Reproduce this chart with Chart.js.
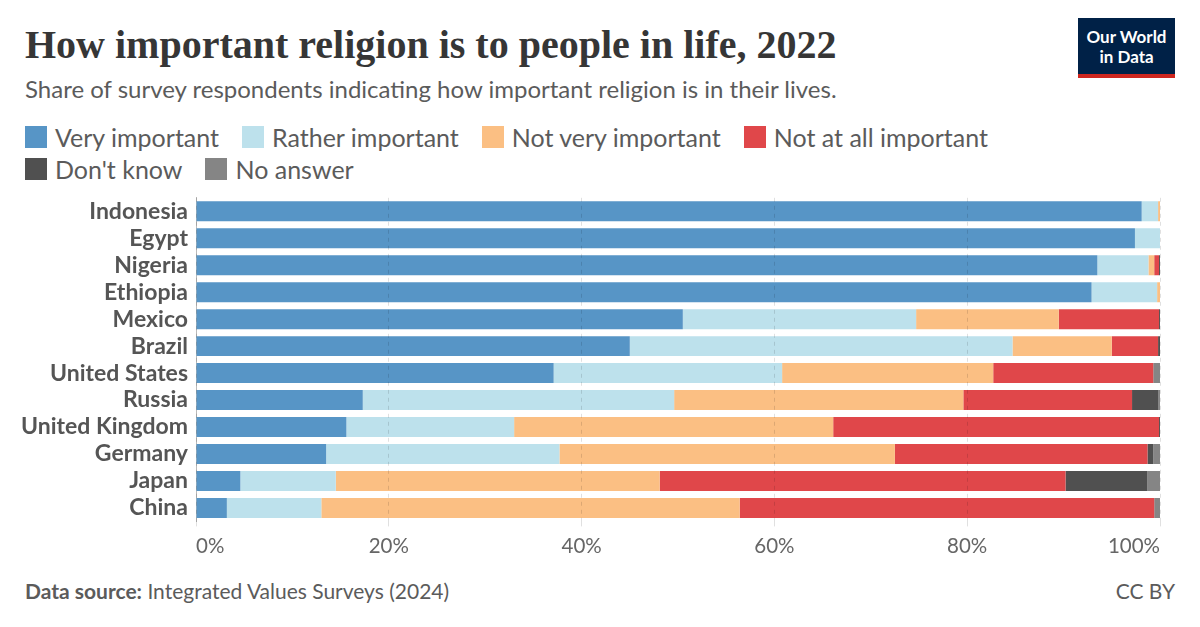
<!DOCTYPE html>
<html>
<head>
<meta charset="utf-8">
<script src="https://cdn.jsdelivr.net/npm/chart.js@4.4.0/dist/chart.umd.min.js"></script>
<style>
  body { margin: 0; background: #fff; width: 1200px; height: 627px; overflow: hidden; position: relative; font-family: Lato, sans-serif; }
  #title { position: absolute; left: 25px; top: 21px; font: bold 40px "Liberation Serif", serif; color: #363636; white-space: nowrap; }
  #subtitle { position: absolute; left: 25px; top: 74px; font-size: 24px; color: #5b5b5b; white-space: nowrap; }
  #logo { position: absolute; left: 1078px; top: 18px; width: 97px; height: 60px; background: #002147; border-bottom: 4px solid #ce261e; box-sizing: border-box; color: #fff; font: bold 17px Lato, sans-serif; line-height: 20px; text-align: center; padding-top: 9px; }
  #legend { position: absolute; left: 25px; top: 121px; width: 1000px; }
  .row { height: 32px; display: flex; align-items: center; }
  .item { display: flex; align-items: center; margin-right: 23px; font-size: 25px; color: #5b5b5b; white-space: nowrap; }
  .item span.box { display: inline-block; width: 22px; height: 22px; margin-right: 8px; }
  #source { position: absolute; left: 25px; top: 578px; font-size: 21px; color: #5b5b5b; }
  #license { position: absolute; right: 25px; top: 578px; font-size: 21px; color: #5b5b5b; }
  #wrap { position: absolute; left: 0; top: 176px; width: 1200px; height: 391px; }
</style>
</head>
<body>
<div id="title">How important religion is to people in life, 2022</div>
<div id="subtitle">Share of survey respondents indicating how important religion is in their lives.</div>
<div id="logo">Our World<br>in Data</div>
<div id="legend"></div>
<div id="wrap"><canvas id="myChart"></canvas></div>
<div id="source"><b>Data source:</b> Integrated Values Surveys (2024)</div>
<div id="license">CC BY</div>
<script>
let countries = ['Indonesia', 'Egypt', 'Nigeria', 'Ethiopia', 'Mexico', 'Brazil', 'United States', 'Russia', 'United Kingdom', 'Germany', 'Japan', 'China'];
let veryImportant =   [98.1, 97.4, 93.5, 92.9, 50.5, 45.0, 37.1, 17.3, 15.6, 13.5, 4.6, 3.2];
let ratherImportant = [1.7, 2.6, 5.3, 6.8, 24.2, 39.7, 23.7, 32.3, 17.4, 24.2, 9.9, 9.8];
let notVery =         [0.2, 0, 0.6, 0.3, 14.8, 10.3, 21.9, 30.0, 33.1, 34.8, 33.6, 43.4];
let notAtAll =        [0, 0, 0.5, 0, 10.4, 4.8, 16.6, 17.5, 33.8, 26.2, 42.1, 43.0];
let dontKnow =        [0, 0, 0.1, 0, 0.1, 0.2, 0, 2.7, 0.1, 0.6, 8.5, 0];
let noAnswer =        [0, 0, 0, 0, 0, 0, 0.8, 0.2, 0, 0.7, 1.3, 0.6];
let seriesNames = ['Very important', 'Rather important', 'Not very important', 'Not at all important', "Don't know", 'No answer'];
let colorHex = ['#5795c6', '#bde1ec', '#fbbf83', '#e0474a', '#505050', '#858585'];
let xTicks = [0, 20, 40, 60, 80, 100];

let seriesData = [veryImportant, ratherImportant, notVery, notAtAll, dontKnow, noAnswer];

// legend in html, four entries on the first row
let legend = document.getElementById('legend');
let row;
seriesNames.forEach((name, i) => {
    if (i === 0 || i === 4) {
        row = document.createElement('div');
        row.className = 'row';
        legend.appendChild(row);
    }
    let item = document.createElement('div');
    item.className = 'item';
    item.innerHTML = '<span class="box" style="background:' + colorHex[i] + '"></span>' + name;
    row.appendChild(item);
});

let ctx = document.getElementById('myChart').getContext('2d');
let myChart = new Chart(ctx, {
    type: 'bar',
    data: {
        labels: countries,
        datasets: seriesNames.map((name, i) => ({
            label: name,
            data: seriesData[i],
            backgroundColor: colorHex[i],
            borderWidth: 0,
            barPercentage: 0.74,
            categoryPercentage: 1
        }))
    },
    options: {
        indexAxis: 'y',
        responsive: true,
        maintainAspectRatio: false,
        animation: false,
        layout: { padding: { left: 15, right: 40, top: 7, bottom: 0 } },
        plugins: {
            legend: { display: false },
            tooltip: { enabled: false }
        },
        scales: {
            x: {
                stacked: true,
                min: 0,
                max: 100,
                afterBuildTicks: (scale) => { scale.ticks = xTicks.map(v => ({ value: v })); },
                ticks: {
                    color: '#666',
                    padding: 8,
                    align: 'inner',
                    font: { family: 'Lato', size: 20.5 },
                    callback: (value) => value + '%'
                },
                grid: { color: 'rgba(0,0,0,0.12)', z: 1, tickLength: 5, drawTicks: true },
                border: { display: false, dash: [4, 4] }
            },
            y: {
                stacked: true,
                afterFit: (scale) => { scale.width = 181; },
                ticks: {
                    color: '#555',
                    padding: 8,
                    autoSkip: false,
                    font: { family: 'Lato', size: 23, weight: 'bold' }
                },
                grid: { display: false, drawTicks: false },
                border: { display: true, color: '#bbb', width: 1 }
            }
        }
    }
});
</script>
</body>
</html>
